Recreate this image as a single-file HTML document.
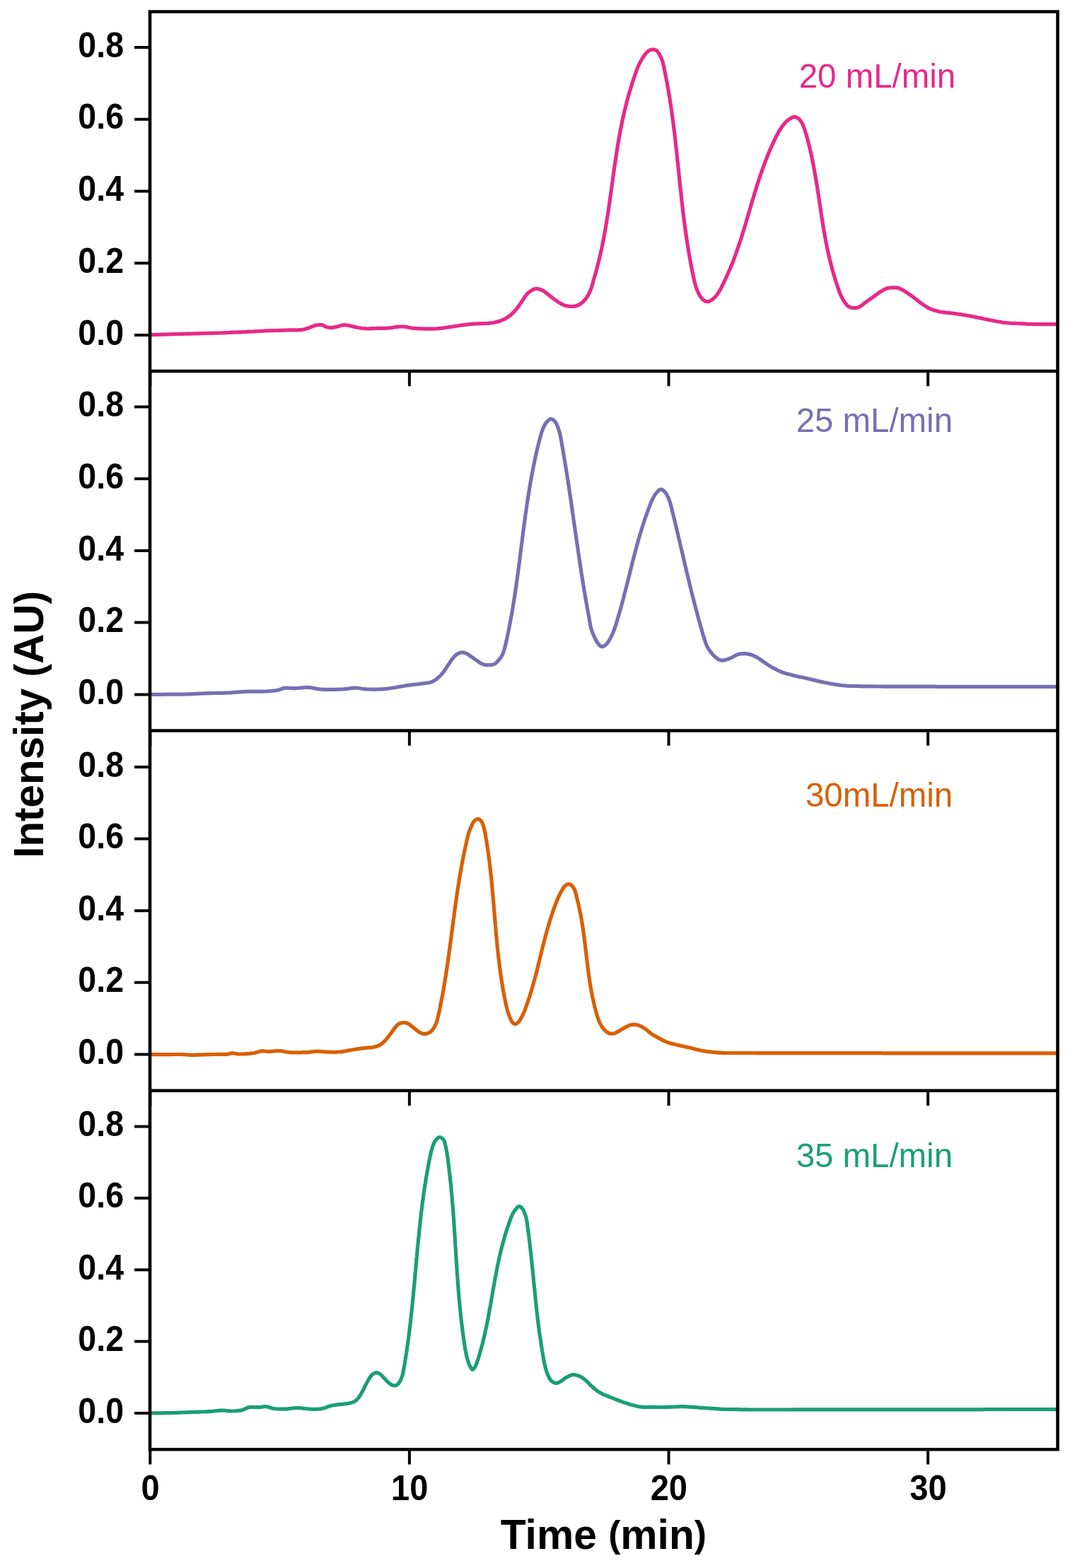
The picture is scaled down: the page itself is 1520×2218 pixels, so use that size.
<!DOCTYPE html>
<html><head><meta charset="utf-8"><title>Chromatograms at different flow rates</title><style>html,body{margin:0;padding:0;background:#fff;width:1520px;height:2218px;overflow:hidden;}svg{display:block;}</style></head><body>
<svg width="1520" height="2218" viewBox="0 0 1520 2218">
<rect width="100%" height="100%" fill="#fff"/>
<polyline fill="none" stroke="#E7298A" stroke-width="5.2" stroke-linejoin="round" stroke-linecap="round" points="212.0,473.7 215.0,473.6 218.0,473.5 221.0,473.4 224.0,473.3 227.0,473.2 230.0,473.1 233.0,473.1 236.0,473.0 238.9,472.9 241.9,472.8 244.9,472.7 248.0,472.6 251.4,472.5 254.8,472.4 258.2,472.3 261.7,472.2 265.2,472.2 268.7,472.1 272.1,472.0 275.6,471.9 279.0,471.8 282.4,471.7 285.9,471.6 289.3,471.5 292.8,471.4 296.3,471.4 299.8,471.3 303.2,471.2 306.6,471.1 310.0,471.0 313.1,470.9 316.1,470.8 319.1,470.6 322.0,470.5 325.0,470.4 328.0,470.2 331.0,470.1 334.0,470.0 337.1,469.9 340.1,469.8 343.1,469.6 346.0,469.5 348.7,469.4 351.4,469.2 354.1,469.1 356.7,469.0 359.3,468.8 362.0,468.7 364.7,468.6 367.3,468.4 370.0,468.3 372.6,468.1 375.3,468.0 378.0,467.9 380.8,467.8 383.5,467.7 386.3,467.6 389.1,467.5 391.9,467.5 394.7,467.4 397.4,467.3 400.2,467.2 403.0,467.1 405.8,467.0 408.6,466.9 411.3,466.8 414.2,466.8 417.1,466.8 420.1,466.8 422.9,466.7 425.6,466.6 428.0,466.3 429.5,466.0 430.9,465.7 432.2,465.3 433.4,464.9 434.7,464.5 436.0,464.0 437.6,463.4 439.3,462.7 441.1,462.0 442.8,461.3 444.3,460.7 445.7,460.3 446.4,460.1 447.0,460.0 447.6,459.9 448.2,459.8 448.8,459.8 449.5,459.7 450.5,459.6 451.5,459.5 452.6,459.5 453.7,459.5 454.8,459.5 455.8,459.7 456.6,460.0 457.4,460.4 458.1,460.8 458.9,461.3 459.6,461.7 460.5,462.1 461.7,462.5 462.9,462.8 464.3,463.0 465.6,463.2 467.0,463.4 468.4,463.4 470.0,463.3 471.6,463.1 473.2,462.8 474.9,462.5 476.4,462.1 477.9,461.8 479.0,461.5 480.1,461.2 481.1,460.8 482.1,460.5 483.1,460.2 484.2,460.0 485.4,459.9 486.7,459.8 488.0,459.9 489.4,459.9 490.7,460.0 492.0,460.2 493.3,460.4 494.7,460.7 496.0,461.1 497.3,461.4 498.7,461.8 500.0,462.1 501.3,462.4 502.6,462.7 503.9,462.9 505.2,463.2 506.5,463.5 507.9,463.7 509.6,464.0 511.5,464.3 513.4,464.5 515.3,464.7 517.2,464.9 519.0,465.0 520.6,465.0 522.0,464.9 523.5,464.8 525.0,464.7 526.6,464.6 528.4,464.5 531.6,464.4 535.3,464.4 539.3,464.4 543.2,464.3 547.1,464.2 550.5,464.0 552.8,463.7 555.0,463.4 557.1,463.0 559.2,462.6 561.2,462.3 563.2,462.1 565.1,462.0 567.0,462.0 568.9,462.0 570.7,462.1 572.5,462.2 574.2,462.4 575.6,462.6 576.8,462.9 578.1,463.2 579.3,463.5 580.6,463.8 582.1,464.0 584.4,464.3 586.9,464.5 589.6,464.7 592.3,464.8 595.1,464.9 597.9,465.0 601.0,465.1 604.1,465.2 607.2,465.2 610.4,465.2 613.6,465.2 616.8,465.0 620.0,464.7 623.2,464.4 626.4,464.0 629.6,463.5 632.7,463.0 635.8,462.6 638.5,462.2 641.2,461.8 643.9,461.4 646.5,461.0 649.1,460.6 651.6,460.2 653.8,459.9 655.8,459.6 657.9,459.3 659.9,459.1 662.0,458.8 664.2,458.6 666.8,458.4 669.6,458.2 672.5,458.0 675.2,457.9 677.8,457.8 680.0,457.7 681.1,457.7 682.1,457.7 682.9,457.7 683.8,457.7 684.7,457.6 685.8,457.6 687.6,457.5 689.7,457.4 691.8,457.2 694.0,457.0 696.3,456.7 698.4,456.3 700.5,455.8 702.7,455.3 704.9,454.7 707.0,454.0 709.0,453.2 711.0,452.4 712.7,451.6 714.3,450.8 715.9,449.9 717.5,448.9 719.0,447.9 720.5,446.8 722.2,445.4 723.8,444.0 725.4,442.4 727.0,440.8 728.5,439.1 730.0,437.4 731.4,435.6 732.8,433.8 734.1,431.9 735.3,430.1 736.6,428.2 737.9,426.3 739.2,424.4 740.4,422.5 741.7,420.5 743.0,418.7 744.3,416.9 745.8,415.3 747.3,413.9 748.9,412.6 750.6,411.4 752.3,410.4 753.8,409.5 755.3,408.9 756.1,408.6 756.9,408.5 757.7,408.4 758.4,408.4 759.2,408.4 760.0,408.5 761.2,408.7 762.5,409.0 763.8,409.5 765.2,410.0 766.6,410.6 767.9,411.3 769.5,412.2 771.1,413.4 772.6,414.6 774.2,415.9 775.8,417.2 777.4,418.4 779.0,419.6 780.5,420.8 782.1,422.0 783.6,423.2 785.2,424.4 786.8,425.5 788.4,426.5 789.9,427.6 791.5,428.6 793.1,429.5 794.7,430.4 796.3,431.1 797.9,431.7 799.5,432.2 801.1,432.6 802.7,433.0 804.3,433.2 805.8,433.4 807.2,433.5 808.5,433.5 809.8,433.5 811.1,433.4 812.4,433.2 813.7,432.9 815.1,432.5 816.4,432.0 817.7,431.5 819.1,430.8 820.4,430.0 821.6,429.2 823.1,428.1 824.5,426.8 825.8,425.4 827.2,424.0 828.4,422.4 829.6,420.8 830.8,419.0 831.8,417.1 832.9,415.1 833.8,413.0 834.7,411.0 835.5,408.9 836.3,406.9 836.9,404.8 837.5,402.7 838.1,400.6 838.6,398.5 839.2,396.3 840.0,393.8 840.7,391.3 841.5,388.7 842.3,386.0 843.0,383.2 843.8,380.3 844.8,376.4 845.9,372.2 846.9,367.9 848.0,363.5 849.0,359.0 850.0,354.6 851.0,350.1 851.9,345.6 852.8,341.1 853.7,336.5 854.5,331.9 855.4,327.2 856.3,322.2 857.1,317.0 858.0,311.9 858.8,306.7 859.6,301.5 860.4,296.3 861.2,291.1 861.9,285.9 862.6,280.7 863.4,275.6 864.1,270.5 864.8,265.5 865.4,261.1 866.0,256.8 866.5,252.5 867.1,248.3 867.7,244.1 868.3,239.8 868.9,235.5 869.6,231.2 870.2,226.9 870.8,222.6 871.5,218.3 872.1,214.1 872.8,210.0 873.4,206.0 874.1,202.0 874.8,198.0 875.5,194.1 876.2,190.2 876.8,186.6 877.5,182.9 878.3,179.3 879.0,175.8 879.6,172.6 880.2,169.6 880.6,167.8 881.0,166.2 881.3,164.7 881.6,163.2 882.0,161.7 882.4,160.0 882.9,157.6 883.6,155.0 884.2,152.2 884.9,149.5 885.6,146.8 886.2,144.2 886.8,141.9 887.4,139.7 888.0,137.6 888.6,135.4 889.2,133.3 889.8,131.1 890.5,128.9 891.2,126.7 891.8,124.5 892.5,122.3 893.2,120.1 893.9,117.9 894.6,115.7 895.4,113.4 896.1,111.2 896.9,109.0 897.6,106.8 898.3,104.7 899.0,102.9 899.6,101.1 900.2,99.3 900.8,97.6 901.5,95.9 902.1,94.2 902.8,92.6 903.6,91.1 904.3,89.6 905.1,88.2 905.9,86.7 906.7,85.3 907.5,83.9 908.3,82.5 909.2,81.2 910.1,79.9 910.9,78.6 911.8,77.4 912.6,76.4 913.4,75.4 914.2,74.5 915.1,73.6 915.9,72.8 916.9,72.1 917.8,71.5 918.9,71.0 920.0,70.6 921.1,70.3 922.2,70.1 923.2,70.0 924.1,70.0 925.0,70.2 925.9,70.4 926.7,70.7 927.6,71.1 928.3,71.6 929.1,72.2 929.8,73.0 930.4,73.9 931.1,74.8 931.7,75.8 932.3,76.8 933.0,78.1 933.7,79.4 934.4,80.9 935.0,82.3 935.6,83.8 936.2,85.3 936.7,86.7 937.1,88.2 937.5,89.7 937.8,91.2 938.1,92.7 938.5,94.2 938.9,95.9 939.3,97.6 939.6,99.4 940.0,101.2 940.3,102.9 940.7,104.7 941.1,106.4 941.4,108.2 941.7,109.9 942.1,111.7 942.4,113.5 942.8,115.3 943.2,117.4 943.6,119.6 944.0,121.8 944.4,124.0 944.8,126.2 945.1,128.4 945.5,130.6 945.9,132.8 946.2,135.0 946.6,137.2 947.0,139.4 947.3,141.6 947.6,143.8 948.0,146.1 948.3,148.3 948.7,150.6 949.0,152.7 949.3,154.7 949.5,156.1 949.7,157.3 949.8,158.5 950.0,159.8 950.2,161.2 950.4,162.8 950.9,166.8 951.6,171.6 952.3,177.0 953.0,182.7 953.7,188.3 954.3,193.6 954.9,198.5 955.4,203.3 955.9,208.1 956.5,213.0 957.0,217.8 957.5,222.7 958.0,227.8 958.6,232.9 959.1,238.1 959.7,243.3 960.2,248.4 960.7,253.5 961.2,258.4 961.7,263.2 962.2,268.0 962.8,272.9 963.3,277.7 963.8,282.6 964.4,287.7 965.0,292.9 965.6,298.1 966.2,303.2 966.9,308.4 967.5,313.5 968.1,318.4 968.8,323.3 969.5,328.2 970.2,333.0 970.9,337.8 971.6,342.6 972.3,347.4 973.1,352.3 974.0,357.2 974.8,361.9 975.5,366.2 976.2,370.0 976.6,371.9 976.9,373.7 977.2,375.3 977.5,376.8 977.8,378.3 978.1,379.9 978.4,381.5 978.8,383.1 979.1,384.8 979.4,386.4 979.8,388.0 980.1,389.7 980.5,391.5 980.9,393.4 981.3,395.3 981.7,397.2 982.1,399.1 982.6,400.9 983.1,402.6 983.6,404.3 984.1,405.9 984.6,407.5 985.3,409.2 985.9,410.8 986.7,412.6 987.6,414.5 988.4,416.3 989.4,418.2 990.5,419.8 991.6,421.3 992.7,422.5 993.8,423.6 995.1,424.6 996.3,425.5 997.6,426.2 998.8,426.6 999.8,426.7 1000.8,426.7 1001.8,426.5 1002.8,426.1 1003.7,425.7 1004.7,425.3 1005.8,424.7 1006.9,423.9 1008.0,423.1 1009.1,422.1 1010.2,421.1 1011.2,420.0 1012.4,418.7 1013.5,417.3 1014.6,415.7 1015.7,414.2 1016.7,412.5 1017.8,410.8 1018.9,408.8 1020.0,406.6 1021.1,404.4 1022.2,402.2 1023.3,399.9 1024.3,397.6 1025.5,395.2 1026.6,392.8 1027.7,390.3 1028.8,387.9 1029.9,385.5 1030.9,383.2 1031.7,381.3 1032.5,379.6 1033.2,377.9 1034.0,376.1 1034.8,374.2 1035.7,372.0 1037.4,367.6 1039.3,362.4 1041.3,356.7 1043.3,350.8 1045.3,345.0 1047.2,339.5 1048.7,334.7 1050.2,329.9 1051.7,325.1 1053.1,320.5 1054.5,315.8 1055.9,311.1 1057.2,306.6 1058.5,302.1 1059.8,297.6 1061.1,293.1 1062.4,288.7 1063.7,284.2 1065.1,279.7 1066.4,275.2 1067.8,270.7 1069.2,266.2 1070.6,261.8 1072.0,257.4 1073.3,253.3 1074.7,249.1 1076.2,244.9 1077.6,240.9 1078.9,237.2 1080.1,233.9 1080.8,232.0 1081.5,230.2 1082.1,228.6 1082.7,227.0 1083.3,225.4 1084.0,223.7 1084.7,221.9 1085.4,220.0 1086.2,218.1 1086.9,216.3 1087.7,214.4 1088.4,212.6 1089.2,210.9 1090.0,209.2 1090.7,207.5 1091.5,205.8 1092.3,204.1 1093.1,202.4 1093.9,200.7 1094.7,198.9 1095.5,197.2 1096.3,195.5 1097.1,193.8 1098.0,192.1 1098.9,190.5 1099.7,188.9 1100.6,187.3 1101.5,185.7 1102.5,184.1 1103.5,182.6 1104.5,181.1 1105.5,179.5 1106.6,178.0 1107.7,176.6 1108.8,175.2 1109.9,173.9 1110.9,172.8 1111.9,171.8 1113.0,170.9 1114.0,170.0 1115.1,169.2 1116.3,168.4 1117.4,167.7 1118.6,167.0 1119.8,166.3 1121.1,165.8 1122.3,165.4 1123.4,165.3 1124.4,165.4 1125.3,165.6 1126.2,166.0 1127.1,166.5 1128.0,167.0 1128.8,167.6 1129.7,168.3 1130.5,169.2 1131.3,170.1 1132.1,171.1 1132.8,172.1 1133.5,173.2 1134.2,174.5 1134.9,175.8 1135.5,177.3 1136.1,178.7 1136.7,180.3 1137.2,181.8 1137.9,183.6 1138.5,185.4 1139.0,187.2 1139.6,189.1 1140.1,191.0 1140.6,192.9 1141.2,194.7 1141.7,196.6 1142.2,198.4 1142.6,200.2 1143.1,202.1 1143.6,203.9 1144.0,205.7 1144.5,207.6 1144.9,209.4 1145.4,211.3 1145.8,213.1 1146.2,215.0 1146.7,216.9 1147.1,218.7 1147.5,220.6 1147.9,222.4 1148.3,224.3 1148.6,226.1 1149.0,227.8 1149.3,229.5 1149.6,231.1 1150.0,232.8 1150.3,234.5 1150.6,236.3 1151.0,238.4 1151.4,240.6 1151.8,242.8 1152.2,245.0 1152.6,247.3 1153.0,249.7 1153.5,252.5 1154.0,255.5 1154.5,258.5 1155.0,261.6 1155.5,264.7 1156.0,268.0 1156.6,272.1 1157.3,276.5 1158.0,281.0 1158.7,285.4 1159.3,289.7 1159.9,293.5 1160.2,296.0 1160.6,298.3 1160.9,300.5 1161.2,302.6 1161.6,304.8 1161.9,307.1 1162.3,309.7 1162.8,312.5 1163.2,315.2 1163.6,318.0 1164.1,320.7 1164.5,323.3 1164.9,325.6 1165.3,327.9 1165.7,330.1 1166.1,332.3 1166.5,334.6 1166.9,336.8 1167.3,339.0 1167.7,341.3 1168.1,343.5 1168.6,345.7 1169.0,348.0 1169.5,350.3 1170.1,352.9 1170.6,355.7 1171.3,358.5 1171.9,361.2 1172.5,364.0 1173.1,366.6 1173.7,368.9 1174.2,371.2 1174.8,373.5 1175.4,375.7 1176.0,377.9 1176.5,380.1 1177.1,382.1 1177.6,384.0 1178.2,386.0 1178.7,387.9 1179.3,389.8 1179.9,391.8 1180.6,394.0 1181.3,396.3 1182.1,398.6 1182.8,400.9 1183.6,403.1 1184.3,405.3 1185.0,407.2 1185.6,409.1 1186.2,410.9 1186.8,412.7 1187.5,414.5 1188.3,416.3 1189.1,418.1 1189.9,419.9 1190.8,421.7 1191.7,423.4 1192.7,425.0 1193.7,426.6 1194.7,428.0 1195.6,429.3 1196.7,430.6 1197.7,431.8 1198.8,432.8 1200.0,433.7 1201.1,434.3 1202.3,434.8 1203.5,435.2 1204.7,435.4 1205.9,435.6 1207.1,435.7 1208.3,435.7 1209.5,435.6 1210.7,435.5 1211.9,435.2 1213.0,434.9 1214.2,434.5 1215.4,433.9 1216.6,433.2 1217.8,432.4 1218.9,431.5 1220.1,430.6 1221.3,429.7 1222.7,428.7 1224.1,427.7 1225.6,426.6 1227.1,425.5 1228.5,424.5 1230.0,423.4 1231.4,422.3 1232.9,421.3 1234.3,420.2 1235.8,419.2 1237.2,418.1 1238.7,417.1 1240.1,416.1 1241.6,415.0 1243.0,414.0 1244.5,413.0 1245.9,412.1 1247.4,411.2 1248.7,410.5 1250.0,409.8 1251.3,409.1 1252.6,408.5 1254.0,408.0 1255.3,407.6 1256.6,407.3 1257.9,407.1 1259.3,407.0 1260.6,406.9 1261.9,406.8 1263.2,406.8 1264.3,406.8 1265.3,406.8 1266.4,406.8 1267.4,406.9 1268.5,407.0 1269.5,407.2 1270.7,407.5 1271.9,408.0 1273.0,408.5 1274.2,409.1 1275.4,409.8 1276.6,410.4 1277.9,411.1 1279.2,411.9 1280.5,412.8 1281.8,413.7 1283.2,414.6 1284.5,415.5 1286.0,416.5 1287.5,417.6 1289.0,418.7 1290.6,419.9 1292.1,421.0 1293.7,422.2 1295.5,423.5 1297.3,425.0 1299.1,426.4 1301.0,427.8 1302.8,429.2 1304.7,430.5 1306.5,431.7 1308.3,432.9 1310.1,434.0 1311.9,435.1 1313.8,436.1 1315.8,437.0 1318.1,437.9 1320.4,438.7 1322.9,439.4 1325.4,440.1 1327.9,440.7 1330.5,441.2 1333.4,441.7 1336.5,442.1 1339.6,442.4 1342.7,442.7 1345.8,443.0 1348.9,443.4 1352.0,443.8 1355.1,444.3 1358.2,444.7 1361.2,445.2 1364.3,445.7 1367.4,446.2 1370.5,446.8 1373.5,447.4 1376.6,448.0 1379.7,448.6 1382.7,449.3 1385.8,449.9 1388.9,450.5 1391.9,451.2 1395.0,451.8 1398.1,452.4 1401.1,453.0 1404.2,453.6 1407.3,454.2 1410.3,454.8 1413.4,455.3 1416.5,455.9 1419.5,456.3 1422.6,456.7 1425.7,457.0 1428.8,457.2 1431.8,457.3 1434.9,457.4 1438.0,457.5 1441.1,457.6 1444.2,457.8 1447.2,457.9 1450.3,458.1 1453.4,458.3 1456.4,458.4 1459.5,458.5 1462.6,458.6 1465.7,458.6 1468.8,458.7 1471.8,458.7 1474.9,458.7 1477.9,458.7 1480.7,458.7 1483.5,458.7 1486.3,458.7 1489.0,458.7 1491.7,458.7 1494.5,458.7"/>
<polyline fill="none" stroke="#7570B3" stroke-width="5.2" stroke-linejoin="round" stroke-linecap="round" points="212.0,982.4 215.9,982.4 219.9,982.3 223.9,982.3 227.8,982.3 231.7,982.3 235.7,982.2 239.7,982.2 243.8,982.2 247.8,982.2 251.9,982.2 255.7,982.2 259.4,982.1 262.2,982.0 264.9,981.9 267.5,981.8 270.1,981.7 272.6,981.6 275.2,981.5 277.8,981.3 280.5,981.2 283.1,981.1 285.7,981.0 288.4,980.9 291.0,980.8 293.6,980.7 296.3,980.6 298.9,980.6 301.5,980.5 304.1,980.5 306.8,980.4 309.3,980.3 311.9,980.3 314.4,980.3 317.0,980.2 319.7,980.1 322.5,980.0 326.2,979.8 330.2,979.5 334.3,979.2 338.5,978.9 342.5,978.6 346.2,978.4 349.0,978.3 351.7,978.2 354.3,978.2 356.9,978.2 359.4,978.2 362.0,978.1 364.6,978.1 367.3,978.1 369.9,978.1 372.5,978.1 375.2,978.0 377.8,977.9 380.5,977.7 383.3,977.5 386.1,977.2 388.8,976.9 391.3,976.5 393.6,976.1 395.1,975.7 396.3,975.2 397.5,974.7 398.8,974.2 400.0,973.7 401.5,973.4 403.8,973.2 406.3,973.2 409.0,973.4 411.7,973.5 414.5,973.7 417.3,973.7 420.4,973.5 423.5,973.2 426.7,972.8 429.9,972.5 433.1,972.3 436.2,972.3 439.0,972.6 441.7,973.0 444.4,973.6 447.1,974.1 449.8,974.6 452.6,975.0 455.7,975.2 458.9,975.3 462.1,975.4 465.3,975.4 468.5,975.3 471.6,975.3 474.3,975.3 477.0,975.2 479.6,975.1 482.2,975.0 484.8,974.9 487.4,974.7 490.1,974.4 492.7,974.1 495.4,973.7 498.1,973.4 500.7,973.2 503.2,973.1 505.4,973.2 507.4,973.5 509.4,973.8 511.5,974.2 513.6,974.5 515.8,974.7 518.8,974.9 522.0,975.0 525.2,975.1 528.5,975.1 531.7,975.1 534.7,975.0 536.9,974.9 539.0,974.9 541.1,974.8 543.1,974.6 545.2,974.4 547.4,974.2 550.4,973.8 553.5,973.3 556.7,972.8 560.0,972.2 563.2,971.6 566.3,971.1 569.0,970.7 571.7,970.3 574.3,969.8 576.9,969.4 579.5,969.1 582.1,968.7 584.8,968.4 587.4,968.0 590.1,967.8 592.8,967.5 595.4,967.1 597.9,966.8 600.0,966.5 602.2,966.3 604.3,966.0 606.3,965.7 608.2,965.3 610.0,964.7 611.5,964.1 612.8,963.4 614.1,962.7 615.4,961.8 616.7,961.0 617.9,960.0 619.3,958.9 620.6,957.6 622.0,956.3 623.3,955.0 624.6,953.6 625.8,952.1 627.1,950.5 628.3,948.8 629.4,947.1 630.6,945.3 631.7,943.5 632.9,941.8 634.1,940.1 635.3,938.3 636.4,936.5 637.6,934.8 638.8,933.1 640.0,931.6 641.0,930.4 642.0,929.2 643.0,928.1 644.1,927.0 645.2,926.1 646.3,925.3 647.4,924.7 648.6,924.1 649.8,923.6 651.0,923.3 652.2,923.0 653.4,922.9 654.3,922.9 655.3,923.0 656.2,923.2 657.0,923.4 658.0,923.7 658.9,924.1 660.2,924.7 661.5,925.5 662.8,926.4 664.1,927.3 665.5,928.3 666.8,929.2 668.1,930.1 669.4,931.0 670.7,932.0 672.1,932.9 673.4,933.8 674.7,934.7 676.0,935.6 677.3,936.5 678.6,937.4 679.9,938.2 681.2,938.9 682.6,939.5 684.1,940.0 685.7,940.3 687.3,940.5 689.0,940.7 690.6,940.7 692.1,940.7 693.4,940.6 694.6,940.5 695.8,940.3 697.0,940.0 698.1,939.6 699.2,939.1 700.4,938.4 701.5,937.5 702.6,936.5 703.6,935.4 704.6,934.3 705.6,933.2 706.5,932.0 707.5,930.8 708.3,929.5 709.2,928.2 709.9,926.8 710.7,925.3 711.5,923.4 712.2,921.2 712.9,919.0 713.5,916.8 714.1,914.6 714.6,912.5 715.0,910.9 715.4,909.4 715.7,907.9 716.0,906.4 716.4,904.8 716.7,903.2 717.2,901.1 717.6,898.9 718.1,896.7 718.6,894.4 719.1,891.9 719.6,889.4 720.3,885.9 721.0,882.1 721.8,878.1 722.5,874.1 723.2,870.2 723.9,866.4 724.5,863.1 725.0,859.9 725.5,856.7 726.0,853.6 726.5,850.5 727.0,847.3 727.5,844.1 728.0,840.8 728.5,837.6 729.0,834.3 729.5,831.2 729.9,828.1 730.3,825.5 730.6,822.9 731.0,820.3 731.3,817.8 731.7,815.3 732.0,812.8 732.4,810.3 732.7,807.7 733.0,805.2 733.4,802.6 733.7,800.1 734.0,797.5 734.4,794.9 734.7,792.4 735.0,789.8 735.3,787.2 735.7,784.7 736.0,782.1 736.3,779.5 736.6,777.0 737.0,774.4 737.3,771.9 737.6,769.3 737.9,766.8 738.3,764.3 738.6,761.8 738.9,759.3 739.2,756.8 739.5,754.2 739.9,751.5 740.3,748.1 740.8,744.5 741.3,740.8 741.8,737.1 742.3,733.3 742.8,729.4 743.4,725.1 744.1,720.6 744.7,716.0 745.4,711.5 746.1,707.0 746.7,702.6 747.4,698.7 748.0,694.8 748.6,691.0 749.2,687.2 749.9,683.4 750.6,679.6 751.3,675.7 752.0,671.8 752.7,668.0 753.5,664.1 754.2,660.3 755.0,656.6 755.6,653.3 756.3,650.0 757.0,646.8 757.7,643.6 758.4,640.5 759.1,637.5 759.7,634.9 760.3,632.5 760.9,630.0 761.5,627.7 762.1,625.3 762.7,622.9 763.3,620.5 763.9,618.2 764.6,615.8 765.2,613.5 765.9,611.3 766.7,609.1 767.5,607.2 768.2,605.2 769.1,603.4 769.9,601.6 770.9,599.9 772.0,598.4 773.0,597.1 774.1,595.9 775.2,594.7 776.4,593.7 777.6,592.9 778.7,592.6 779.6,592.6 780.5,592.9 781.4,593.3 782.3,593.9 783.1,594.6 783.9,595.3 784.8,596.3 785.6,597.4 786.3,598.7 787.0,600.1 787.6,601.5 788.3,603.0 789.0,604.8 789.7,606.8 790.3,608.9 790.9,611.0 791.5,613.1 792.0,615.2 792.5,617.2 792.9,619.3 793.2,621.3 793.6,623.3 793.9,625.4 794.3,627.5 794.7,629.7 795.1,632.0 795.5,634.2 795.9,636.5 796.3,638.9 796.7,641.3 797.2,644.3 797.7,647.5 798.3,650.7 798.8,654.0 799.4,657.3 799.9,660.5 800.4,663.7 800.9,666.9 801.4,670.0 801.9,673.2 802.4,676.4 802.9,679.6 803.4,682.8 803.9,686.0 804.4,689.2 804.9,692.4 805.3,695.6 805.8,698.8 806.3,702.0 806.8,705.2 807.2,708.5 807.7,711.7 808.2,714.8 808.6,717.9 809.0,720.6 809.4,723.2 809.7,725.8 810.1,728.4 810.5,730.9 810.8,733.3 811.1,735.3 811.4,737.2 811.6,739.1 811.9,741.0 812.2,743.0 812.5,745.0 812.9,747.5 813.2,750.2 813.6,752.9 814.0,755.7 814.4,758.5 814.8,761.4 815.3,764.8 815.8,768.3 816.4,771.9 816.9,775.6 817.4,779.2 817.9,782.8 818.5,786.4 819.0,790.0 819.6,793.6 820.1,797.2 820.6,800.8 821.1,804.2 821.6,807.2 822.0,810.1 822.5,812.9 822.9,815.7 823.4,818.6 823.8,821.4 824.3,824.3 824.7,827.1 825.2,830.0 825.7,832.8 826.1,835.7 826.6,838.5 827.1,841.4 827.6,844.2 828.1,847.0 828.6,849.9 829.1,852.7 829.6,855.6 830.1,858.5 830.6,861.3 831.1,864.2 831.6,867.1 832.2,869.9 832.7,872.8 833.2,875.7 833.7,878.6 834.2,881.5 834.7,884.4 835.3,887.2 836.0,889.9 836.8,892.2 837.6,894.4 838.4,896.6 839.3,898.7 840.3,900.7 841.2,902.7 842.2,904.5 843.1,906.3 844.1,908.0 845.1,909.6 846.1,911.0 847.1,912.2 847.8,912.8 848.5,913.4 849.2,913.9 849.9,914.3 850.7,914.6 851.4,914.7 852.2,914.6 853.1,914.4 853.9,914.0 854.8,913.5 855.6,912.9 856.4,912.2 857.6,911.0 858.8,909.6 859.9,908.0 861.0,906.3 862.1,904.5 863.1,902.7 864.1,900.7 865.1,898.7 866.1,896.5 867.0,894.3 867.9,892.1 868.7,889.9 869.6,887.5 870.4,885.1 871.2,882.7 871.9,880.2 872.6,877.8 873.3,875.3 874.1,872.8 874.8,870.3 875.6,867.8 876.3,865.3 877.0,862.7 877.8,860.0 878.7,856.6 879.7,853.0 880.7,849.3 881.6,845.6 882.6,841.9 883.5,838.3 884.4,834.9 885.3,831.5 886.1,828.1 887.0,824.7 887.8,821.4 888.7,818.0 889.5,814.6 890.4,811.1 891.2,807.7 892.1,804.3 892.9,801.0 893.7,797.7 894.4,794.9 895.1,792.2 895.8,789.5 896.5,786.8 897.2,784.2 897.9,781.5 898.6,778.8 899.4,776.0 900.1,773.3 900.8,770.5 901.6,767.8 902.3,765.2 903.0,762.8 903.7,760.5 904.3,758.2 905.0,756.0 905.7,753.7 906.4,751.4 907.1,749.0 907.8,746.6 908.6,744.1 909.4,741.7 910.2,739.2 911.0,736.8 911.8,734.4 912.6,731.9 913.5,729.5 914.4,727.1 915.3,724.6 916.2,722.2 917.1,719.7 918.0,717.2 918.9,714.7 919.9,712.2 920.8,709.8 921.9,707.6 922.8,705.8 923.7,704.1 924.6,702.4 925.5,700.8 926.5,699.3 927.6,697.9 928.6,696.7 929.7,695.4 930.8,694.3 931.9,693.3 933.0,692.5 934.1,692.2 935.0,692.3 936.0,692.6 937.0,693.2 937.9,693.8 938.8,694.6 939.7,695.4 940.6,696.4 941.4,697.5 942.2,698.7 942.9,700.0 943.6,701.4 944.3,702.7 945.0,704.2 945.6,705.8 946.3,707.5 946.9,709.2 947.4,710.8 947.9,712.5 948.4,714.1 948.8,715.7 949.2,717.3 949.6,718.9 950.0,720.6 950.4,722.2 950.8,723.9 951.3,725.7 951.7,727.5 952.2,729.3 952.6,731.1 953.1,733.0 953.6,735.2 954.2,737.6 954.7,739.9 955.3,742.3 955.9,744.7 956.4,747.0 957.0,749.2 957.5,751.4 958.0,753.5 958.5,755.7 959.0,757.8 959.5,760.0 960.0,762.1 960.5,764.2 961.0,766.3 961.5,768.4 962.0,770.7 962.6,773.0 963.3,776.2 964.1,779.7 965.0,783.3 965.8,787.0 966.7,790.6 967.5,794.1 968.2,797.2 968.9,800.2 969.6,803.2 970.3,806.2 971.0,809.1 971.7,812.1 972.4,815.1 973.1,818.1 973.9,821.2 974.6,824.2 975.3,827.2 976.1,830.2 976.8,833.2 977.5,836.2 978.3,839.2 979.0,842.2 979.8,845.2 980.6,848.2 981.3,851.2 982.1,854.2 982.9,857.2 983.7,860.2 984.5,863.2 985.3,866.2 986.1,869.2 986.9,872.2 987.7,875.3 988.6,878.3 989.4,881.3 990.3,884.3 991.1,887.3 992.0,890.4 992.8,893.5 993.7,896.5 994.6,899.5 995.5,902.3 996.3,904.7 997.0,907.1 997.8,909.4 998.6,911.6 999.5,913.7 1000.5,915.8 1001.6,917.7 1002.8,919.5 1004.1,921.2 1005.4,922.9 1006.7,924.4 1007.8,925.8 1008.6,926.6 1009.3,927.4 1010.0,928.1 1010.7,928.8 1011.4,929.4 1012.1,930.0 1012.7,930.5 1013.4,931.1 1014.0,931.6 1014.7,932.0 1015.3,932.4 1016.0,932.8 1016.7,933.1 1017.4,933.4 1018.1,933.7 1018.8,933.9 1019.5,934.0 1020.3,934.1 1021.2,934.1 1022.1,934.1 1023.1,933.9 1024.0,933.8 1025.0,933.5 1026.0,933.3 1027.2,933.0 1028.5,932.6 1029.8,932.1 1031.1,931.6 1032.4,931.1 1033.7,930.5 1035.2,929.8 1036.8,928.9 1038.4,928.0 1040.0,927.2 1041.6,926.4 1043.2,925.8 1044.6,925.4 1046.1,925.1 1047.5,924.9 1048.9,924.7 1050.4,924.6 1051.8,924.6 1053.2,924.6 1054.7,924.7 1056.1,924.9 1057.6,925.1 1059.0,925.4 1060.5,925.8 1062.1,926.3 1063.7,926.8 1065.3,927.4 1066.9,928.1 1068.4,928.9 1070.0,929.7 1071.6,930.6 1073.2,931.7 1074.8,932.8 1076.4,933.9 1077.9,935.0 1079.5,936.1 1081.1,937.2 1082.7,938.2 1084.2,939.3 1085.8,940.4 1087.4,941.4 1089.0,942.4 1090.5,943.3 1092.1,944.2 1093.6,945.1 1095.2,945.9 1096.8,946.7 1098.4,947.5 1100.1,948.3 1101.7,949.0 1103.4,949.8 1105.2,950.5 1106.9,951.2 1108.7,951.8 1110.6,952.4 1112.6,953.0 1114.6,953.5 1116.6,954.0 1118.6,954.5 1120.5,955.0 1122.2,955.4 1123.8,955.9 1125.4,956.3 1127.0,956.7 1128.5,957.1 1130.0,957.4 1131.2,957.6 1132.2,957.8 1133.3,958.0 1134.3,958.2 1135.5,958.4 1136.8,958.7 1139.4,959.3 1142.4,960.0 1145.7,960.8 1149.1,961.6 1152.5,962.4 1155.8,963.2 1158.9,963.9 1162.1,964.6 1165.2,965.3 1168.4,965.9 1171.5,966.5 1174.7,967.1 1177.8,967.6 1181.0,968.2 1184.1,968.6 1187.2,969.1 1190.4,969.5 1193.7,969.8 1197.3,970.1 1200.9,970.3 1204.6,970.4 1208.4,970.5 1212.1,970.6 1215.8,970.7 1219.5,970.8 1223.2,970.8 1226.8,970.9 1230.5,970.9 1234.2,970.9 1237.9,971.0 1241.6,971.0 1245.2,971.0 1248.9,971.1 1252.6,971.1 1256.3,971.2 1260.0,971.2 1263.9,971.2 1267.9,971.2 1271.9,971.2 1276.0,971.2 1280.0,971.2 1284.0,971.2 1288.0,971.2 1292.0,971.2 1296.0,971.2 1300.0,971.2 1304.0,971.2 1308.0,971.2 1312.0,971.2 1316.0,971.2 1320.0,971.2 1324.0,971.3 1328.0,971.3 1332.0,971.3 1336.0,971.3 1340.0,971.3 1344.0,971.3 1348.0,971.3 1352.0,971.3 1356.0,971.3 1360.0,971.3 1364.0,971.3 1368.0,971.3 1372.0,971.3 1376.0,971.3 1380.0,971.3 1383.9,971.3 1387.7,971.3 1391.5,971.3 1395.4,971.3 1399.2,971.3 1403.0,971.3 1406.8,971.3 1410.7,971.3 1414.5,971.3 1418.3,971.3 1422.2,971.3 1426.0,971.3 1429.8,971.3 1433.7,971.3 1437.5,971.3 1441.3,971.4 1445.2,971.4 1449.0,971.4 1452.8,971.4 1456.7,971.4 1460.5,971.4 1464.3,971.4 1468.2,971.4 1472.0,971.4 1475.8,971.4 1479.7,971.4 1483.5,971.4 1487.3,971.4 1491.2,971.4 1495.0,971.4"/>
<polyline fill="none" stroke="#D95F02" stroke-width="5.2" stroke-linejoin="round" stroke-linecap="round" points="212.0,1491.6 215.9,1491.6 219.7,1491.6 223.6,1491.6 227.4,1491.6 231.3,1491.6 235.2,1491.6 239.1,1491.6 243.1,1491.6 247.2,1491.5 251.1,1491.5 254.8,1491.5 258.3,1491.6 260.6,1491.7 262.8,1491.9 264.8,1492.0 266.8,1492.2 268.8,1492.3 270.9,1492.4 273.0,1492.4 275.1,1492.4 277.2,1492.3 279.3,1492.2 281.4,1492.1 283.5,1492.0 285.7,1491.9 287.8,1491.9 289.9,1491.8 292.0,1491.7 294.1,1491.7 296.2,1491.6 298.3,1491.6 300.4,1491.5 302.5,1491.5 304.6,1491.5 306.7,1491.4 308.9,1491.4 311.0,1491.4 313.2,1491.4 315.5,1491.4 317.6,1491.4 319.7,1491.4 321.5,1491.2 322.7,1491.0 323.7,1490.7 324.7,1490.4 325.7,1490.2 326.7,1489.9 327.8,1489.8 329.3,1489.8 331.0,1490.0 332.7,1490.3 334.4,1490.6 336.3,1490.9 338.3,1491.0 341.5,1491.0 345.1,1490.9 348.9,1490.6 352.7,1490.3 356.2,1489.9 359.4,1489.5 361.4,1489.1 363.2,1488.6 364.9,1488.0 366.5,1487.5 368.2,1487.1 369.9,1486.8 371.6,1486.7 373.3,1486.8 375.0,1487.0 376.8,1487.2 378.5,1487.3 380.4,1487.4 382.7,1487.3 385.1,1487.1 387.6,1486.9 390.2,1486.6 392.7,1486.5 395.2,1486.5 397.6,1486.7 400.0,1487.0 402.3,1487.5 404.7,1487.9 407.3,1488.3 409.9,1488.6 413.5,1488.8 417.4,1488.9 421.5,1488.9 425.6,1488.9 429.5,1488.7 433.1,1488.6 435.7,1488.4 438.2,1488.1 440.6,1487.8 443.0,1487.5 445.3,1487.3 447.8,1487.2 450.5,1487.2 453.3,1487.4 456.1,1487.6 459.0,1487.9 461.8,1488.1 464.6,1488.2 467.4,1488.2 470.2,1488.3 472.9,1488.3 475.7,1488.2 478.6,1488.0 481.5,1487.8 484.9,1487.4 488.5,1486.8 492.1,1486.1 495.7,1485.4 499.2,1484.8 502.5,1484.2 505.1,1483.8 507.7,1483.5 510.1,1483.2 512.6,1482.9 514.9,1482.6 517.3,1482.3 519.4,1482.1 521.5,1481.9 523.6,1481.8 525.7,1481.6 527.6,1481.3 529.5,1480.9 531.1,1480.5 532.6,1480.0 534.1,1479.5 535.5,1478.8 536.9,1478.2 538.2,1477.4 539.5,1476.5 540.7,1475.6 541.9,1474.5 543.1,1473.4 544.2,1472.3 545.3,1471.1 546.4,1469.9 547.5,1468.6 548.5,1467.3 549.6,1465.9 550.6,1464.6 551.6,1463.2 552.7,1461.8 553.7,1460.3 554.7,1458.8 555.8,1457.3 556.8,1455.8 557.9,1454.5 558.9,1453.3 559.9,1452.1 560.9,1451.0 562.0,1449.9 563.0,1449.0 564.2,1448.2 565.3,1447.7 566.5,1447.3 567.7,1447.0 569.0,1446.8 570.2,1446.6 571.3,1446.6 572.3,1446.6 573.2,1446.7 574.1,1446.9 575.0,1447.1 575.9,1447.4 576.8,1447.8 577.9,1448.4 579.0,1449.1 580.0,1449.9 581.1,1450.8 582.1,1451.7 583.2,1452.5 584.3,1453.3 585.3,1454.2 586.3,1455.1 587.4,1456.0 588.4,1456.8 589.5,1457.6 590.5,1458.4 591.6,1459.1 592.6,1459.9 593.7,1460.5 594.7,1461.1 595.8,1461.6 596.7,1461.9 597.6,1462.1 598.6,1462.3 599.5,1462.4 600.4,1462.4 601.3,1462.4 602.2,1462.3 603.2,1462.2 604.1,1461.9 605.0,1461.6 605.9,1461.3 606.8,1460.8 607.9,1460.1 608.9,1459.3 609.9,1458.4 610.8,1457.4 611.7,1456.4 612.6,1455.3 613.4,1454.1 614.2,1452.9 614.9,1451.6 615.6,1450.2 616.2,1448.8 616.8,1447.4 617.3,1445.9 617.8,1444.4 618.2,1442.9 618.6,1441.3 619.0,1439.7 619.5,1437.9 620.1,1435.3 620.7,1432.6 621.3,1429.7 621.9,1426.7 622.5,1423.7 623.1,1420.6 623.8,1417.1 624.5,1413.5 625.2,1409.8 625.9,1406.2 626.5,1402.5 627.2,1399.0 627.7,1395.9 628.2,1392.8 628.7,1389.9 629.2,1386.9 629.7,1383.9 630.2,1380.9 630.6,1377.9 631.1,1374.8 631.6,1371.8 632.0,1368.8 632.4,1365.8 632.9,1362.9 633.2,1360.4 633.6,1358.0 633.9,1355.6 634.2,1353.2 634.6,1350.9 634.9,1348.5 635.2,1346.1 635.5,1343.7 635.9,1341.3 636.2,1338.9 636.5,1336.5 636.8,1334.1 637.2,1331.7 637.5,1329.3 637.8,1326.9 638.1,1324.5 638.4,1322.1 638.7,1319.7 639.0,1317.3 639.4,1314.9 639.7,1312.4 640.0,1310.0 640.3,1307.6 640.6,1305.2 640.9,1302.8 641.2,1300.5 641.6,1298.1 641.9,1295.7 642.2,1293.4 642.5,1291.0 642.8,1288.7 643.1,1286.4 643.4,1284.1 643.8,1281.7 644.1,1279.3 644.4,1276.8 644.9,1273.6 645.4,1270.3 645.9,1266.9 646.4,1263.5 646.9,1260.0 647.4,1256.6 647.9,1253.2 648.5,1249.8 649.0,1246.3 649.5,1242.9 650.1,1239.6 650.7,1236.3 651.2,1233.4 651.7,1230.5 652.2,1227.6 652.7,1224.8 653.2,1222.1 653.7,1219.4 654.1,1217.1 654.6,1214.8 655.0,1212.6 655.4,1210.3 655.9,1208.1 656.4,1205.9 656.8,1203.6 657.3,1201.4 657.8,1199.1 658.3,1196.8 658.8,1194.6 659.3,1192.3 659.8,1190.0 660.3,1187.7 660.8,1185.4 661.4,1183.2 661.9,1180.9 662.6,1178.8 663.2,1176.9 663.9,1175.0 664.6,1173.1 665.3,1171.3 666.1,1169.6 666.9,1168.0 667.5,1166.7 668.1,1165.4 668.7,1164.2 669.3,1163.1 670.0,1162.1 670.8,1161.2 671.5,1160.5 672.3,1159.9 673.1,1159.3 674.0,1158.9 674.8,1158.6 675.6,1158.5 676.4,1158.6 677.2,1158.9 678.0,1159.3 678.8,1159.9 679.6,1160.5 680.2,1161.2 680.9,1162.1 681.5,1163.1 682.0,1164.3 682.5,1165.5 683.0,1166.7 683.4,1168.0 683.9,1169.5 684.3,1171.0 684.7,1172.6 685.0,1174.3 685.4,1175.9 685.7,1177.5 686.0,1179.1 686.3,1180.6 686.6,1182.1 686.8,1183.7 687.1,1185.3 687.3,1186.9 687.6,1188.8 688.0,1190.8 688.3,1192.9 688.6,1194.9 689.0,1197.0 689.3,1199.1 689.6,1201.3 689.9,1203.5 690.3,1205.8 690.6,1208.1 690.9,1210.3 691.2,1212.6 691.5,1214.8 691.8,1217.1 692.1,1219.3 692.3,1221.6 692.6,1223.8 692.9,1226.1 693.1,1228.4 693.4,1230.6 693.6,1232.9 693.9,1235.2 694.1,1237.4 694.4,1239.7 694.6,1242.0 694.8,1244.2 695.1,1246.5 695.3,1248.7 695.5,1251.0 695.7,1253.2 695.9,1255.4 696.1,1257.7 696.3,1259.9 696.5,1262.2 696.7,1264.4 696.9,1266.7 697.1,1269.0 697.3,1271.2 697.5,1273.5 697.7,1275.7 697.9,1278.0 698.1,1280.2 698.3,1282.3 698.4,1284.4 698.6,1286.5 698.8,1288.6 699.0,1290.8 699.2,1293.0 699.4,1295.6 699.6,1298.2 699.8,1300.9 700.0,1303.6 700.3,1306.4 700.5,1309.2 700.8,1312.3 701.0,1315.4 701.3,1318.6 701.6,1321.9 701.9,1325.1 702.2,1328.3 702.5,1331.5 702.8,1334.7 703.1,1337.9 703.4,1341.1 703.8,1344.3 704.1,1347.5 704.5,1350.7 704.8,1353.9 705.2,1357.1 705.6,1360.2 706.0,1363.4 706.4,1366.6 706.8,1369.8 707.2,1373.0 707.6,1376.2 708.1,1379.4 708.6,1382.6 709.0,1385.8 709.5,1389.0 710.1,1392.4 710.6,1395.7 711.2,1398.9 711.7,1402.0 712.2,1404.9 712.6,1407.0 713.0,1409.1 713.4,1411.1 713.8,1412.9 714.2,1414.8 714.5,1416.5 714.8,1417.8 715.0,1419.0 715.3,1420.2 715.5,1421.3 715.8,1422.5 716.1,1423.7 716.4,1425.1 716.7,1426.4 717.1,1427.8 717.5,1429.3 717.9,1430.6 718.3,1432.0 718.7,1433.3 719.2,1434.6 719.6,1435.8 720.1,1437.1 720.6,1438.3 721.1,1439.5 721.6,1440.7 722.1,1441.9 722.7,1443.1 723.3,1444.3 723.9,1445.3 724.6,1446.2 725.1,1446.8 725.8,1447.4 726.4,1447.8 727.1,1448.2 727.7,1448.5 728.4,1448.6 729.1,1448.5 729.8,1448.3 730.5,1447.9 731.2,1447.4 731.9,1446.9 732.5,1446.3 733.4,1445.4 734.2,1444.4 735.0,1443.2 735.7,1442.0 736.5,1440.7 737.2,1439.5 737.8,1438.3 738.4,1437.1 739.0,1435.9 739.6,1434.6 740.2,1433.3 740.7,1432.0 741.4,1430.5 742.0,1429.0 742.6,1427.5 743.2,1425.9 743.8,1424.3 744.4,1422.5 745.3,1419.9 746.3,1417.0 747.3,1414.0 748.3,1411.0 749.3,1407.9 750.3,1404.9 751.2,1402.0 752.0,1399.0 752.9,1396.1 753.7,1393.1 754.5,1390.2 755.3,1387.3 756.1,1384.6 756.8,1382.1 757.4,1379.5 758.1,1376.9 758.8,1374.3 759.5,1371.5 760.3,1368.1 761.2,1364.5 762.1,1360.8 763.0,1357.1 763.9,1353.5 764.8,1350.0 765.5,1347.0 766.2,1344.1 766.9,1341.2 767.6,1338.4 768.4,1335.5 769.1,1332.6 770.0,1329.4 770.8,1326.0 771.7,1322.7 772.6,1319.3 773.5,1316.1 774.4,1312.9 775.2,1310.1 776.0,1307.4 776.8,1304.8 777.6,1302.2 778.4,1299.6 779.2,1297.1 779.9,1294.8 780.7,1292.5 781.4,1290.3 782.2,1288.1 783.0,1285.9 783.7,1283.7 784.5,1281.7 785.2,1279.6 786.0,1277.7 786.7,1275.7 787.5,1273.7 788.3,1271.8 789.2,1269.9 790.1,1268.0 791.0,1266.1 791.9,1264.2 792.9,1262.5 793.8,1260.8 794.5,1259.5 795.3,1258.2 796.0,1256.9 796.7,1255.7 797.5,1254.6 798.4,1253.7 799.3,1252.9 800.3,1252.2 801.3,1251.5 802.3,1251.0 803.3,1250.6 804.3,1250.5 805.2,1250.7 806.1,1251.0 807.0,1251.6 807.8,1252.2 808.6,1253.0 809.4,1253.7 810.1,1254.6 810.8,1255.5 811.4,1256.6 811.9,1257.7 812.5,1258.8 813.0,1260.0 813.5,1261.4 814.0,1263.0 814.4,1264.6 814.7,1266.2 815.1,1267.9 815.5,1269.5 815.9,1271.1 816.3,1272.6 816.7,1274.2 817.0,1275.7 817.4,1277.3 817.8,1278.9 818.2,1280.6 818.5,1282.3 818.9,1284.0 819.3,1285.7 819.7,1287.4 820.0,1289.2 820.4,1291.1 820.8,1293.1 821.2,1295.1 821.6,1297.1 821.9,1299.1 822.3,1301.1 822.6,1303.1 822.9,1305.0 823.3,1307.0 823.6,1309.0 823.9,1310.9 824.2,1312.9 824.5,1314.9 824.7,1316.8 825.0,1318.8 825.3,1320.7 825.5,1322.7 825.8,1324.7 826.1,1326.7 826.3,1328.8 826.6,1330.8 826.9,1332.9 827.1,1334.9 827.4,1337.0 827.6,1339.1 827.9,1341.2 828.1,1343.4 828.4,1345.5 828.6,1347.7 828.9,1350.0 829.2,1352.7 829.5,1355.4 829.9,1358.3 830.2,1361.1 830.6,1364.1 830.9,1367.0 831.4,1370.3 831.8,1373.8 832.3,1377.3 832.7,1380.7 833.2,1384.1 833.7,1387.4 834.1,1390.2 834.6,1392.8 835.0,1395.4 835.4,1398.0 835.9,1400.6 836.4,1403.2 836.9,1405.8 837.4,1408.5 837.9,1411.1 838.5,1413.7 839.1,1416.3 839.7,1418.9 840.2,1421.3 840.8,1423.8 841.4,1426.2 842.1,1428.5 842.7,1430.9 843.4,1433.2 844.0,1435.4 844.6,1437.5 845.3,1439.7 846.0,1441.8 846.7,1443.8 847.6,1445.8 848.5,1447.6 849.5,1449.5 850.5,1451.3 851.6,1453.0 852.7,1454.6 853.9,1456.0 855.0,1457.2 856.2,1458.3 857.4,1459.3 858.6,1460.3 859.9,1461.0 861.1,1461.6 862.1,1461.9 863.2,1462.1 864.2,1462.2 865.3,1462.2 866.3,1462.2 867.4,1462.0 868.7,1461.7 870.0,1461.2 871.3,1460.5 872.7,1459.8 874.0,1459.1 875.3,1458.4 876.6,1457.7 877.9,1456.9 879.2,1456.1 880.6,1455.2 881.9,1454.4 883.2,1453.7 884.5,1453.0 885.8,1452.3 887.1,1451.7 888.5,1451.1 889.8,1450.5 891.1,1450.1 892.3,1449.8 893.5,1449.6 894.7,1449.4 895.8,1449.3 897.0,1449.2 898.2,1449.3 899.4,1449.4 900.6,1449.7 901.8,1450.0 902.9,1450.4 904.1,1450.8 905.3,1451.3 906.6,1451.9 907.9,1452.6 909.3,1453.4 910.6,1454.2 911.9,1455.1 913.2,1456.0 914.5,1457.0 915.8,1458.1 917.1,1459.2 918.4,1460.3 919.7,1461.4 921.1,1462.4 922.6,1463.4 924.1,1464.3 925.6,1465.2 927.2,1466.1 928.8,1467.0 930.5,1467.9 932.4,1468.9 934.4,1470.0 936.4,1471.1 938.4,1472.1 940.5,1473.0 942.6,1473.9 944.6,1474.6 946.7,1475.3 948.7,1475.9 950.8,1476.5 953.0,1477.0 955.3,1477.6 958.2,1478.3 961.3,1479.0 964.5,1479.7 967.8,1480.4 971.0,1481.1 974.2,1481.8 977.4,1482.6 980.6,1483.4 983.8,1484.2 987.0,1484.9 990.1,1485.7 993.2,1486.3 995.9,1486.8 998.5,1487.2 1001.1,1487.6 1003.7,1487.9 1006.3,1488.2 1008.9,1488.5 1011.6,1488.7 1014.3,1488.9 1017.0,1489.1 1019.7,1489.2 1022.3,1489.3 1024.7,1489.4 1026.4,1489.4 1027.9,1489.5 1029.3,1489.5 1030.8,1489.5 1032.4,1489.5 1034.2,1489.5 1037.4,1489.5 1041.0,1489.5 1044.9,1489.5 1048.9,1489.5 1052.9,1489.5 1056.8,1489.5 1060.6,1489.5 1064.4,1489.5 1068.2,1489.6 1071.9,1489.6 1075.7,1489.6 1079.5,1489.6 1083.2,1489.6 1087.0,1489.6 1090.8,1489.6 1094.6,1489.6 1098.3,1489.6 1102.1,1489.6 1105.9,1489.6 1109.6,1489.6 1113.4,1489.6 1117.2,1489.6 1121.0,1489.6 1124.7,1489.6 1128.5,1489.6 1132.3,1489.6 1136.1,1489.7 1139.8,1489.7 1143.6,1489.7 1147.4,1489.7 1151.1,1489.7 1154.9,1489.7 1158.7,1489.7 1162.4,1489.7 1166.2,1489.7 1170.0,1489.7 1173.8,1489.7 1177.6,1489.7 1181.4,1489.7 1185.2,1489.7 1189.0,1489.7 1192.9,1489.7 1196.7,1489.7 1200.5,1489.7 1204.3,1489.7 1208.1,1489.7 1211.9,1489.7 1215.7,1489.7 1219.5,1489.7 1223.3,1489.7 1227.1,1489.7 1231.0,1489.7 1234.8,1489.7 1238.6,1489.7 1242.4,1489.7 1246.2,1489.7 1250.0,1489.8 1253.8,1489.8 1257.6,1489.8 1261.4,1489.8 1265.2,1489.8 1269.0,1489.8 1272.9,1489.8 1276.7,1489.8 1280.5,1489.8 1284.3,1489.8 1288.1,1489.8 1291.9,1489.8 1295.7,1489.8 1299.5,1489.8 1303.3,1489.8 1307.1,1489.8 1310.9,1489.8 1314.7,1489.8 1318.5,1489.8 1322.4,1489.8 1326.2,1489.8 1330.0,1489.8 1333.9,1489.8 1337.8,1489.8 1341.8,1489.8 1345.7,1489.8 1349.6,1489.8 1353.6,1489.8 1357.5,1489.8 1361.4,1489.8 1365.4,1489.8 1369.3,1489.8 1373.2,1489.8 1377.1,1489.8 1381.1,1489.8 1385.0,1489.8 1388.9,1489.8 1392.9,1489.8 1396.8,1489.8 1400.7,1489.8 1404.6,1489.8 1408.6,1489.8 1412.5,1489.8 1416.4,1489.8 1420.4,1489.8 1424.3,1489.8 1428.2,1489.8 1432.1,1489.8 1436.1,1489.8 1440.0,1489.8 1443.9,1489.8 1447.9,1489.8 1451.8,1489.8 1455.7,1489.8 1459.6,1489.8 1463.6,1489.8 1467.5,1489.8 1471.4,1489.8 1475.4,1489.8 1479.3,1489.8 1483.2,1489.8 1487.1,1489.8 1491.1,1489.8 1495.0,1489.8"/>
<polyline fill="none" stroke="#1B9E77" stroke-width="5.2" stroke-linejoin="round" stroke-linecap="round" points="212.0,1999.0 214.5,1999.0 216.9,1998.9 219.4,1998.9 221.9,1998.9 224.3,1998.8 226.8,1998.8 229.3,1998.8 231.8,1998.7 234.2,1998.7 236.7,1998.7 239.2,1998.7 241.6,1998.6 243.9,1998.5 246.2,1998.5 248.5,1998.4 250.8,1998.3 253.1,1998.2 255.4,1998.1 257.7,1998.0 260.0,1997.9 262.3,1997.8 264.6,1997.8 266.9,1997.7 269.2,1997.6 271.5,1997.5 273.8,1997.4 276.1,1997.3 278.4,1997.3 280.7,1997.2 283.0,1997.1 285.3,1997.0 287.6,1997.0 289.9,1996.9 292.2,1996.8 294.5,1996.7 296.9,1996.6 299.8,1996.4 302.8,1996.0 305.8,1995.7 308.9,1995.3 311.8,1995.1 314.6,1995.0 316.7,1995.1 318.7,1995.3 320.6,1995.5 322.5,1995.7 324.4,1995.9 326.5,1996.0 329.1,1996.0 331.8,1995.9 334.5,1995.7 337.3,1995.4 339.9,1995.1 342.3,1994.6 344.1,1994.1 345.7,1993.3 347.2,1992.6 348.8,1991.8 350.4,1991.2 352.1,1990.7 354.3,1990.4 356.6,1990.4 359.0,1990.5 361.4,1990.6 363.7,1990.7 365.9,1990.7 367.6,1990.5 369.3,1990.3 371.0,1990.0 372.6,1989.8 374.2,1989.7 375.8,1989.7 377.4,1989.9 379.0,1990.3 380.6,1990.8 382.3,1991.3 383.9,1991.8 385.7,1992.2 387.8,1992.5 390.0,1992.8 392.3,1993.0 394.6,1993.1 397.0,1993.2 399.5,1993.2 402.9,1993.1 406.5,1992.8 410.2,1992.4 413.9,1992.0 417.7,1991.7 421.2,1991.6 424.3,1991.7 427.3,1992.0 430.3,1992.4 433.2,1992.7 436.1,1993.0 439.0,1993.2 441.7,1993.3 444.4,1993.3 447.0,1993.3 449.7,1993.2 452.3,1993.0 454.8,1992.6 457.1,1992.1 459.4,1991.4 461.6,1990.6 463.8,1989.7 466.1,1989.0 468.6,1988.3 472.0,1987.7 475.8,1987.1 479.8,1986.7 483.6,1986.3 487.1,1985.9 490.0,1985.5 491.3,1985.3 492.4,1985.1 493.4,1985.0 494.4,1984.8 495.3,1984.6 496.3,1984.3 497.4,1984.0 498.5,1983.6 499.5,1983.2 500.6,1982.8 501.6,1982.2 502.6,1981.6 503.6,1980.8 504.6,1979.8 505.6,1978.7 506.5,1977.6 507.3,1976.5 508.2,1975.3 509.1,1974.1 509.9,1972.8 510.7,1971.4 511.4,1970.1 512.2,1968.7 512.9,1967.4 513.6,1966.1 514.2,1964.8 514.9,1963.5 515.5,1962.2 516.1,1960.8 516.8,1959.5 517.6,1958.0 518.3,1956.6 519.1,1955.1 519.9,1953.6 520.8,1952.2 521.6,1950.8 522.3,1949.6 523.1,1948.5 523.8,1947.4 524.6,1946.3 525.4,1945.3 526.3,1944.5 527.1,1943.8 528.0,1943.2 529.0,1942.6 529.9,1942.2 530.9,1941.9 531.8,1941.7 532.7,1941.7 533.7,1941.9 534.6,1942.2 535.6,1942.6 536.5,1943.1 537.4,1943.7 538.5,1944.5 539.5,1945.5 540.6,1946.6 541.6,1947.7 542.7,1948.9 543.7,1950.0 544.7,1951.1 545.8,1952.2 546.8,1953.3 547.8,1954.4 548.9,1955.4 550.0,1956.3 551.0,1957.1 552.1,1957.8 553.1,1958.6 554.2,1959.2 555.2,1959.6 556.3,1959.9 557.2,1960.0 558.2,1959.9 559.2,1959.8 560.1,1959.5 561.0,1959.2 561.8,1958.7 562.6,1958.1 563.4,1957.2 564.0,1956.3 564.7,1955.3 565.3,1954.3 565.9,1953.2 566.5,1952.0 567.1,1950.8 567.6,1949.5 568.2,1948.1 568.6,1946.7 569.1,1945.3 569.6,1943.6 569.9,1941.8 570.3,1939.9 570.6,1938.0 570.9,1936.1 571.3,1934.2 571.6,1932.2 572.0,1930.2 572.3,1928.3 572.6,1926.2 573.0,1924.1 573.3,1922.0 573.7,1919.4 574.1,1916.8 574.6,1914.1 575.0,1911.4 575.4,1908.5 575.8,1905.6 576.3,1902.0 576.8,1898.2 577.4,1894.3 577.9,1890.4 578.4,1886.5 578.9,1882.6 579.4,1878.7 579.8,1874.9 580.3,1871.0 580.7,1867.1 581.1,1863.3 581.5,1859.6 581.9,1856.3 582.2,1853.0 582.6,1849.8 582.9,1846.6 583.2,1843.5 583.5,1840.5 583.8,1837.9 584.0,1835.3 584.3,1832.8 584.5,1830.3 584.7,1827.7 585.0,1825.1 585.3,1822.0 585.6,1818.8 585.9,1815.5 586.2,1812.3 586.5,1809.1 586.7,1806.0 587.0,1803.4 587.2,1800.8 587.4,1798.2 587.7,1795.7 587.9,1793.2 588.1,1790.7 588.3,1788.1 588.6,1785.5 588.8,1782.9 589.0,1780.4 589.3,1777.8 589.5,1775.3 589.7,1773.0 589.9,1770.9 590.1,1768.7 590.3,1766.5 590.5,1764.3 590.7,1762.0 591.0,1759.2 591.3,1756.4 591.6,1753.4 591.9,1750.4 592.2,1747.4 592.5,1744.2 592.9,1740.3 593.3,1736.3 593.8,1732.1 594.2,1727.9 594.7,1723.8 595.1,1719.8 595.5,1716.3 595.9,1712.9 596.4,1709.5 596.8,1706.2 597.2,1702.9 597.6,1699.5 598.1,1696.1 598.6,1692.6 599.0,1689.2 599.5,1685.8 600.0,1682.4 600.5,1679.2 600.9,1676.4 601.4,1673.6 601.8,1670.9 602.2,1668.3 602.6,1665.6 603.1,1663.0 603.5,1660.5 603.9,1658.0 604.4,1655.6 604.8,1653.2 605.2,1650.8 605.7,1648.4 606.1,1646.2 606.5,1644.0 606.9,1641.8 607.4,1639.6 607.8,1637.5 608.2,1635.4 608.7,1633.5 609.1,1631.5 609.5,1629.6 610.0,1627.8 610.5,1625.9 611.0,1624.1 611.6,1622.4 612.2,1620.6 612.8,1618.9 613.4,1617.3 614.2,1615.7 615.1,1614.3 616.0,1613.1 617.0,1611.8 618.1,1610.7 619.2,1609.7 620.3,1609.0 621.4,1608.7 622.4,1608.8 623.4,1609.1 624.4,1609.6 625.3,1610.3 626.2,1611.1 627.0,1611.9 627.8,1613.1 628.3,1614.4 628.8,1616.0 629.2,1617.6 629.6,1619.2 630.0,1620.8 630.4,1622.4 630.7,1623.9 631.0,1625.5 631.3,1627.2 631.6,1628.8 631.9,1630.6 632.2,1632.9 632.6,1635.3 632.9,1637.7 633.3,1640.3 633.6,1642.8 633.9,1645.2 634.2,1647.5 634.5,1649.8 634.8,1652.1 635.1,1654.3 635.3,1656.6 635.6,1659.0 635.9,1661.6 636.2,1664.3 636.5,1667.0 636.8,1669.8 637.1,1672.5 637.4,1675.2 637.7,1677.9 637.9,1680.6 638.2,1683.3 638.4,1686.0 638.7,1688.7 638.9,1691.4 639.2,1694.1 639.4,1696.8 639.6,1699.5 639.8,1702.2 640.1,1704.9 640.3,1707.6 640.5,1710.3 640.7,1713.0 640.9,1715.7 641.1,1718.5 641.3,1721.2 641.5,1723.9 641.7,1726.6 641.8,1729.3 642.0,1732.0 642.2,1734.6 642.4,1737.4 642.6,1740.1 642.7,1743.0 642.9,1745.9 643.1,1748.8 643.3,1751.8 643.5,1754.9 643.7,1758.0 643.9,1761.7 644.2,1765.6 644.4,1769.6 644.7,1773.6 644.9,1777.5 645.1,1781.4 645.4,1785.0 645.6,1788.6 645.8,1792.2 646.1,1795.7 646.3,1799.2 646.6,1802.8 646.8,1806.4 647.1,1809.9 647.3,1813.5 647.6,1817.1 647.9,1820.6 648.1,1824.2 648.4,1827.8 648.7,1831.4 649.0,1835.0 649.3,1838.5 649.7,1842.1 650.0,1845.7 650.3,1849.3 650.7,1852.8 651.1,1856.4 651.4,1860.0 651.8,1863.5 652.2,1867.1 652.6,1870.7 653.0,1874.2 653.5,1877.7 653.9,1881.3 654.4,1884.9 654.9,1888.5 655.4,1892.4 656.0,1896.4 656.6,1900.5 657.2,1904.5 657.8,1908.3 658.5,1912.0 659.1,1914.9 659.7,1917.9 660.4,1920.7 661.1,1923.3 661.8,1925.8 662.5,1927.9 662.9,1929.1 663.4,1930.1 663.8,1931.0 664.3,1931.9 664.7,1932.8 665.2,1933.6 665.6,1934.4 666.1,1935.2 666.5,1936.0 667.0,1936.7 667.5,1937.2 668.0,1937.4 668.5,1937.3 669.0,1937.0 669.5,1936.5 670.0,1935.9 670.5,1935.3 671.0,1934.6 671.6,1933.7 672.2,1932.6 672.7,1931.4 673.2,1930.2 673.7,1928.8 674.3,1927.5 674.9,1925.7 675.5,1923.9 676.2,1922.0 676.8,1919.9 677.4,1917.8 678.1,1915.5 679.1,1912.1 680.1,1908.5 681.1,1904.6 682.2,1900.6 683.2,1896.6 684.1,1892.8 685.0,1889.2 685.8,1885.6 686.5,1882.1 687.3,1878.5 688.0,1875.0 688.8,1871.4 689.5,1867.8 690.2,1864.3 690.8,1860.7 691.5,1857.1 692.1,1853.5 692.8,1849.9 693.5,1846.1 694.2,1842.2 694.8,1838.3 695.5,1834.4 696.2,1830.6 696.8,1826.8 697.4,1823.4 698.0,1820.1 698.6,1816.9 699.2,1813.6 699.7,1810.4 700.3,1807.1 701.0,1803.7 701.6,1800.2 702.3,1796.7 703.0,1793.3 703.6,1790.0 704.3,1787.0 704.7,1784.9 705.1,1783.0 705.5,1781.1 705.9,1779.3 706.3,1777.4 706.8,1775.5 707.3,1773.4 707.8,1771.2 708.3,1769.0 708.9,1766.8 709.4,1764.6 710.0,1762.4 710.6,1760.2 711.2,1757.9 711.8,1755.7 712.4,1753.5 713.0,1751.3 713.6,1749.2 714.1,1747.5 714.6,1745.8 715.1,1744.2 715.6,1742.5 716.1,1740.9 716.7,1739.3 717.2,1737.7 717.7,1736.0 718.3,1734.4 718.9,1732.8 719.4,1731.1 720.0,1729.5 720.6,1727.8 721.2,1726.1 721.8,1724.5 722.4,1722.8 723.1,1721.2 723.8,1719.6 724.5,1718.2 725.1,1716.8 725.9,1715.4 726.6,1714.1 727.4,1712.9 728.3,1711.7 729.2,1710.6 730.1,1709.4 731.1,1708.3 732.1,1707.4 733.1,1706.7 734.1,1706.4 734.9,1706.5 735.7,1706.9 736.5,1707.5 737.3,1708.2 738.0,1708.9 738.7,1709.7 739.3,1710.6 739.9,1711.6 740.5,1712.7 741.0,1713.9 741.4,1715.1 741.9,1716.3 742.4,1717.6 742.9,1719.0 743.3,1720.4 743.7,1721.9 744.1,1723.4 744.4,1724.9 744.8,1726.7 745.1,1728.5 745.4,1730.4 745.6,1732.3 745.8,1734.2 746.1,1736.1 746.4,1738.1 746.6,1740.0 746.9,1742.0 747.2,1744.0 747.4,1745.9 747.7,1747.9 747.9,1749.8 748.1,1751.6 748.4,1753.5 748.6,1755.3 748.8,1757.2 749.0,1759.1 749.3,1761.2 749.5,1763.4 749.8,1765.6 750.0,1767.8 750.3,1770.0 750.5,1772.2 750.8,1774.3 751.0,1776.4 751.2,1778.4 751.4,1780.5 751.7,1782.7 751.9,1785.0 752.2,1788.0 752.5,1791.1 752.9,1794.3 753.2,1797.6 753.5,1801.0 753.9,1804.4 754.3,1808.3 754.6,1812.3 755.0,1816.4 755.5,1820.5 755.9,1824.6 756.3,1828.7 756.7,1832.8 757.1,1836.9 757.5,1841.0 758.0,1845.1 758.4,1849.1 758.8,1853.0 759.2,1856.5 759.6,1859.9 760.0,1863.3 760.4,1866.6 760.8,1869.9 761.2,1873.3 761.6,1876.7 762.1,1880.1 762.5,1883.5 763.0,1886.8 763.5,1890.2 764.0,1893.6 764.5,1897.0 765.0,1900.5 765.5,1903.9 766.1,1907.3 766.6,1910.6 767.2,1913.9 767.6,1916.7 768.1,1919.5 768.6,1922.2 769.0,1924.9 769.6,1927.6 770.2,1930.2 770.8,1932.7 771.4,1935.3 772.1,1937.8 772.9,1940.3 773.7,1942.6 774.6,1944.8 775.4,1946.5 776.2,1948.2 777.0,1949.8 777.9,1951.3 778.9,1952.6 780.0,1953.7 781.0,1954.5 782.0,1955.1 783.1,1955.7 784.2,1956.1 785.3,1956.4 786.4,1956.5 787.4,1956.4 788.3,1956.2 789.2,1955.9 790.2,1955.5 791.1,1955.0 792.1,1954.5 793.4,1953.7 794.7,1952.8 796.0,1951.8 797.4,1950.7 798.8,1949.7 800.2,1948.8 801.7,1948.0 803.2,1947.2 804.7,1946.4 806.2,1945.7 807.7,1945.2 809.1,1944.8 810.1,1944.7 811.1,1944.6 812.0,1944.7 812.9,1944.8 813.8,1945.0 814.8,1945.2 816.0,1945.5 817.2,1945.9 818.4,1946.3 819.7,1946.8 820.9,1947.4 822.1,1948.0 823.4,1948.8 824.6,1949.7 825.9,1950.7 827.1,1951.7 828.3,1952.7 829.4,1953.7 830.3,1954.5 831.1,1955.4 831.9,1956.2 832.7,1957.1 833.5,1958.0 834.5,1958.9 836.2,1960.5 838.1,1962.2 840.2,1964.0 842.4,1965.9 844.7,1967.6 847.1,1969.2 850.0,1970.8 853.0,1972.3 856.2,1973.7 859.5,1975.0 862.8,1976.3 866.1,1977.6 869.7,1979.1 873.4,1980.5 877.1,1982.0 880.9,1983.4 884.6,1984.6 888.2,1985.8 891.4,1986.8 894.7,1987.6 897.9,1988.5 901.0,1989.2 904.1,1989.8 907.1,1990.2 909.6,1990.4 912.0,1990.5 914.3,1990.5 916.6,1990.4 919.0,1990.4 921.3,1990.3 923.7,1990.4 926.0,1990.4 928.4,1990.5 930.7,1990.5 933.1,1990.5 935.5,1990.5 938.1,1990.5 940.7,1990.4 943.3,1990.3 946.0,1990.3 948.7,1990.2 951.3,1990.1 953.9,1990.0 956.4,1989.9 959.0,1989.8 961.6,1989.7 964.3,1989.7 967.1,1989.7 970.8,1989.8 974.8,1990.1 979.0,1990.4 983.1,1990.7 987.1,1991.0 990.8,1991.3 993.6,1991.5 996.3,1991.7 998.9,1991.8 1001.5,1992.0 1004.0,1992.2 1006.6,1992.3 1009.2,1992.5 1011.8,1992.7 1014.4,1992.9 1017.0,1993.1 1019.6,1993.3 1022.4,1993.4 1025.8,1993.5 1029.3,1993.6 1032.9,1993.6 1036.5,1993.6 1040.1,1993.7 1043.7,1993.7 1047.2,1993.8 1050.8,1993.8 1054.3,1993.9 1057.8,1993.9 1061.4,1994.0 1065.0,1994.0 1068.9,1994.0 1072.9,1994.0 1076.9,1994.0 1080.9,1994.0 1084.9,1994.0 1088.9,1994.0 1092.9,1994.0 1096.9,1994.0 1100.8,1994.0 1104.8,1994.0 1108.8,1994.0 1112.8,1994.0 1116.8,1994.0 1120.7,1993.9 1124.7,1993.9 1128.7,1993.9 1132.7,1993.9 1136.7,1993.9 1140.6,1993.9 1144.6,1993.9 1148.6,1993.9 1152.6,1993.9 1156.6,1993.9 1160.6,1993.9 1164.5,1993.9 1168.5,1993.9 1172.5,1993.9 1176.5,1993.9 1180.5,1993.9 1184.4,1993.9 1188.4,1993.9 1192.4,1993.9 1196.4,1993.9 1200.4,1993.9 1204.4,1993.9 1208.3,1993.9 1212.3,1993.9 1216.3,1993.9 1220.3,1993.9 1224.3,1993.9 1228.2,1993.8 1232.2,1993.8 1236.2,1993.8 1240.2,1993.8 1244.2,1993.8 1248.1,1993.8 1252.1,1993.8 1256.1,1993.8 1260.1,1993.8 1264.1,1993.8 1268.1,1993.8 1272.0,1993.8 1276.0,1993.8 1280.0,1993.8 1284.0,1993.8 1288.0,1993.8 1291.9,1993.8 1295.9,1993.8 1299.9,1993.8 1303.9,1993.8 1307.9,1993.8 1311.9,1993.8 1315.8,1993.8 1319.8,1993.8 1323.8,1993.8 1327.8,1993.8 1331.8,1993.8 1335.7,1993.8 1339.7,1993.8 1343.7,1993.8 1347.7,1993.8 1351.7,1993.8 1355.6,1993.8 1359.6,1993.8 1363.6,1993.8 1367.6,1993.8 1371.6,1993.8 1375.6,1993.8 1379.5,1993.8 1383.5,1993.8 1387.5,1993.8 1391.5,1993.7 1395.5,1993.7 1399.4,1993.7 1403.4,1993.7 1407.4,1993.7 1411.4,1993.7 1415.4,1993.7 1419.4,1993.7 1423.3,1993.7 1427.3,1993.7 1431.3,1993.7 1435.3,1993.7 1439.3,1993.7 1443.2,1993.7 1447.2,1993.7 1451.2,1993.7 1455.2,1993.7 1459.2,1993.7 1463.1,1993.7 1467.1,1993.7 1471.1,1993.7 1475.1,1993.7 1479.1,1993.7 1483.1,1993.7 1487.0,1993.7 1491.0,1993.7 1495.0,1993.7"/>
<path d="M190,474.0H212 M190,372.3H212 M190,270.6H212 M190,168.8H212 M190,67.1H212 M212.3,525.0v21.3 M578.9,525.0v21.3 M945.5,525.0v21.3 M1312.1,525.0v21.3 M190,982.4H212 M190,880.6H212 M190,778.9H212 M190,677.2H212 M190,575.4H212 M212.3,1033.5v21.3 M578.9,1033.5v21.3 M945.5,1033.5v21.3 M1312.1,1033.5v21.3 M190,1491.4H212 M190,1389.8H212 M190,1288.2H212 M190,1186.5H212 M190,1084.9H212 M212.3,1542.7v21.3 M578.9,1542.7v21.3 M945.5,1542.7v21.3 M1312.1,1542.7v21.3 M190,1999.0H212 M190,1897.6H212 M190,1796.2H212 M190,1694.8H212 M190,1593.4H212 M212.3,2050.2v21.3 M578.9,2050.2v21.3 M945.5,2050.2v21.3 M1312.1,2050.2v21.3" stroke="#000" stroke-width="4" fill="none"/>
<path d="M209.7,16.5H1497.8 M209.7,525.0H1497.8 M209.7,1033.5H1497.8 M209.7,1542.7H1497.8 M209.7,2050.2H1497.8 M212,14.2V2052.2 M1495.5,14.2V2052.2" stroke="#000" stroke-width="4.6" fill="none"/>
<g font-family="Liberation Sans, Arial, Helvetica, sans-serif" font-weight="bold" font-size="50" fill="#000"><text transform="translate(175,487.6) scale(0.93,1)" text-anchor="end">0.0</text><text transform="translate(175,385.9) scale(0.93,1)" text-anchor="end">0.2</text><text transform="translate(175,284.2) scale(0.93,1)" text-anchor="end">0.4</text><text transform="translate(175,182.4) scale(0.93,1)" text-anchor="end">0.6</text><text transform="translate(175,80.7) scale(0.93,1)" text-anchor="end">0.8</text><text transform="translate(175,996.0) scale(0.93,1)" text-anchor="end">0.0</text><text transform="translate(175,894.2) scale(0.93,1)" text-anchor="end">0.2</text><text transform="translate(175,792.5) scale(0.93,1)" text-anchor="end">0.4</text><text transform="translate(175,690.8) scale(0.93,1)" text-anchor="end">0.6</text><text transform="translate(175,589.0) scale(0.93,1)" text-anchor="end">0.8</text><text transform="translate(175,1505.0) scale(0.93,1)" text-anchor="end">0.0</text><text transform="translate(175,1403.4) scale(0.93,1)" text-anchor="end">0.2</text><text transform="translate(175,1301.8) scale(0.93,1)" text-anchor="end">0.4</text><text transform="translate(175,1200.1) scale(0.93,1)" text-anchor="end">0.6</text><text transform="translate(175,1098.5) scale(0.93,1)" text-anchor="end">0.8</text><text transform="translate(175,2012.6) scale(0.93,1)" text-anchor="end">0.0</text><text transform="translate(175,1911.2) scale(0.93,1)" text-anchor="end">0.2</text><text transform="translate(175,1809.8) scale(0.93,1)" text-anchor="end">0.4</text><text transform="translate(175,1708.4) scale(0.93,1)" text-anchor="end">0.6</text><text transform="translate(175,1607.0) scale(0.93,1)" text-anchor="end">0.8</text><text transform="translate(212.6,2121.6) scale(0.94,1)" text-anchor="middle">0</text><text transform="translate(579.2,2121.6) scale(0.94,1)" text-anchor="middle">10</text><text transform="translate(945.8,2121.6) scale(0.94,1)" text-anchor="middle">20</text><text transform="translate(1312.4,2121.6) scale(0.94,1)" text-anchor="middle">30</text></g>
<text transform="translate(853.4,2190.8) scale(0.991,1)" text-anchor="middle" font-family="Liberation Sans, Arial, Helvetica, sans-serif" font-weight="bold" font-size="59.3" fill="#000">Time <tspan font-size="52.2" dy="-3">(</tspan><tspan dy="3">min</tspan><tspan font-size="52.2" dy="-3">)</tspan></text>
<text transform="translate(61.2,1024.9) rotate(-90) scale(0.978,1)" text-anchor="middle" font-family="Liberation Sans, Arial, Helvetica, sans-serif" font-weight="bold" font-size="59.7" fill="#000">Intensity <tspan font-size="57.1">(</tspan>AU<tspan font-size="57.1">)</tspan></text>
<text transform="translate(1351.1,124.3) scale(0.988,1)" text-anchor="end" font-family="Liberation Sans, Arial, Helvetica, sans-serif" font-size="48" fill="#E7298A">20 mL/min</text>
<text transform="translate(1347,611) scale(0.988,1)" text-anchor="end" font-family="Liberation Sans, Arial, Helvetica, sans-serif" font-size="48" fill="#7570B3">25 mL/min</text>
<text transform="translate(1347.1,1141) scale(0.988,1)" text-anchor="end" font-family="Liberation Sans, Arial, Helvetica, sans-serif" font-size="48" fill="#D95F02">30mL/min</text>
<text transform="translate(1347,1651) scale(0.988,1)" text-anchor="end" font-family="Liberation Sans, Arial, Helvetica, sans-serif" font-size="48" fill="#1B9E77">35 mL/min</text>
</svg>
</body></html>
